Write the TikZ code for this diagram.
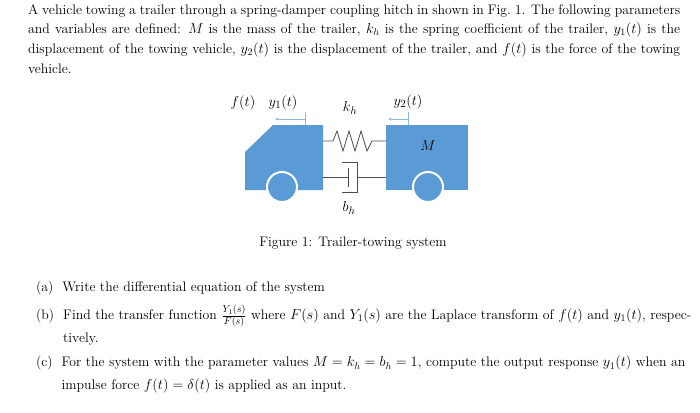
\documentclass[tikz,border=0pt]{standalone}
\usepackage{amsmath}
\begin{document}
\begin{tikzpicture}[x=1pt,y=-1pt,
  body/.style={fill=blu,draw=none},
  wheel/.style={fill=blu,draw=white,line width=2pt},
  mech/.style={draw=black!70,line width=0.8pt},
  mot/.style={draw=blu!70,line width=0.6pt},
  para/.style={anchor=north west,inner sep=0pt,text width=652pt,align=justify,font=\fontsize{13.8}{19.7}\selectfont\sloppy},
  itm/.style={anchor=north west,inner sep=0pt,font=\fontsize{13.8}{19.7}\selectfont},
  lab/.style={font=\fontsize{15}{17}\selectfont\itshape}]
\definecolor{blu}{RGB}{91,155,213}
\useasboundingbox (0,0) rectangle (700,412);
\node[para] (p) at (28,4) {A vehicle towing a trailer through a spring-damper coupling hitch in shown in Fig.~1. The following parameters\linebreak and variables are defined: $M$ is the mass of the trailer, $k_h$ is the spring coefficient of the trailer, $y_1(t)$ is the\linebreak displacement of the towing vehicle, $y_2(t)$ is the displacement of the trailer, and $f(t)$ is the force of the towing\linebreak vehicle.};
% truck
\path[body] (245,152) -- (273,125) -- (323,125) -- (323,190) -- (245,190) -- cycle;
\path[body] (386,125) rectangle (468,190);
\node[wheel,circle,minimum size=30pt,inner sep=0pt] (w1) at (282,187) {};
\node[wheel,circle,minimum size=30pt,inner sep=0pt] (w2) at (428,187) {};
\coordinate (s1) at (323,141); \coordinate (s2) at (386,141);
\draw[mech] (s1) -- (333,141) -- (337,131) -- (343,151) -- (349,131) -- (355,151) -- (361,131) -- (367,151) -- (372,141) -- (s2);
\coordinate (d1) at (323,177); \coordinate (d2) at (386,177);
\draw[mech] (d1) -- (348,177) (348,168) -- (348,187);
\draw[mech] (342,162) -- (357,162) -- (357,192) -- (342,192);
\draw[mech] (357,177) -- (d2);
\coordinate (a1) at (305,119); \coordinate (a1e) at (275,119);
\draw[mot] (305,112) -- (305,125);
\draw[mot,-stealth] (a1) -- (a1e);
\coordinate (a2) at (408,119); \coordinate (a2e) at (388,119);
\draw[mot] (408,112) -- (408,125);
\draw[mot,-stealth] (a2) -- (a2e);
\node[lab] (f) at (243,103) {$f(t)$};
\node[lab] (y1) at (283,103) {$y_1(t)$};
\node[lab] (kh) at (350,108) {$k_h$};
\node[lab] (y2) at (408,102) {$y_2(t)$};
\node[lab] (M) at (428,146) {$M$};
\node[lab] (bh) at (349,208) {$b_h$};
\node[itm,anchor=center] (cap) at (353,243) {Figure 1: Trailer-towing system};
\node[itm] (a) at (36,281) {(a)\ \ Write the differential equation of the system};
\node[itm] (b) at (36,305) {\begin{tabular}{@{}l@{\ \ }l@{}}(b) & Find the transfer function $\frac{Y_1(s)}{F(s)}$ where $F(s)$ and $Y_1(s)$ are the Laplace transform of $f(t)$ and $y_1(t)$, respec-\\[3pt] & tively.\end{tabular}};
\node[itm] (c) at (36,353) {\begin{tabular}{@{}l@{\ \ }l@{}}(c) & For the system with the parameter values $M=k_h=b_h=1$, compute the output response $y_1(t)$ when an\\[3pt] & impulse force $f(t)=\delta(t)$ is applied as an input.\end{tabular}};
\end{tikzpicture}
\end{document}
